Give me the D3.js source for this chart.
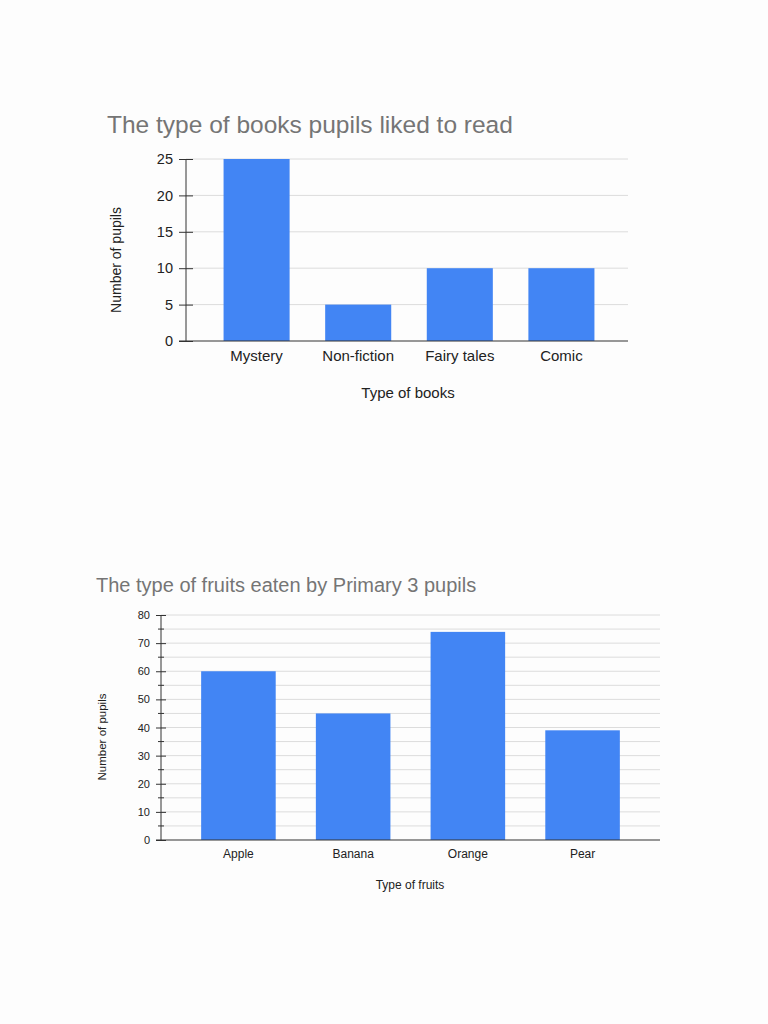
<!DOCTYPE html>
<html>
<head>
<meta charset="utf-8">
<script src="https://cdn.jsdelivr.net/npm/d3@7"></script>
<style>
  body { margin: 0; background: #fdfdfd; }
  text { font-family: "Liberation Sans", Arial, sans-serif; }
</style>
</head>
<body>
<div id="canvas"></div>
<script>
// chart data
var bookTypes = ["Mystery", "Non-fiction", "Fairy tales", "Comic"];
var bookPupils = [25, 5, 10, 10];
var bookTicks = [0, 5, 10, 15, 20, 25];

var fruitTypes = ["Apple", "Banana", "Orange", "Pear"];
var fruitPupils = [60, 45, 74, 39];
var fruitTicks = [0, 10, 20, 30, 40, 50, 60, 70, 80];
var fruitMinorTicks = d3.range(0, 81, 5);

var w = 768;
var h = 1024;

var svg = d3.select("#canvas")
    .append("svg")
    .attr("width", w)
    .attr("height", h);

function drawChart(opt) {
    var g = svg.append("g");

    var x = d3.scaleBand()
        .domain(opt.categories)
        .range([opt.left + opt.barShift, opt.right + opt.barShift])
        .paddingInner(0.35)
        .paddingOuter(0.35);

    var y = d3.scaleLinear()
        .domain([0, d3.max(opt.ticks)])
        .range([opt.bottom, opt.top]);

    // gridlines
    g.selectAll(".grid")
        .data(opt.gridTicks)
        .join("line")
        .attr("x1", opt.left)
        .attr("x2", opt.right)
        .attr("y1", d => y(d))
        .attr("y2", d => y(d))
        .attr("stroke", "#dcdcdc")
        .attr("stroke-width", 1);

    // bars
    g.selectAll(".bar")
        .data(opt.values)
        .join("rect")
        .attr("x", (d, i) => x(opt.categories[i]))
        .attr("y", d => y(d))
        .attr("width", x.bandwidth())
        .attr("height", d => y(0) - y(d))
        .attr("fill", "#4285f4");

    // y axis (ticks cross the axis line)
    var yAxis = g.append("g")
        .attr("transform", `translate(${opt.left},0)`)
        .call(d3.axisLeft(y).tickValues(opt.ticks).tickSize(opt.tickLen).tickPadding(opt.tickPad));
    yAxis.selectAll(".tick line")
        .attr("x2", opt.tickLen)
        .attr("x1", -opt.tickLen)
        .attr("stroke", "#333");
    yAxis.select(".domain").attr("stroke", "#333")
        .attr("d", `M0,${opt.bottom}V${opt.top}`);
    yAxis.selectAll(".tick text")
        .style("font-size", opt.tickFont + "px")
        .style("font-family", "Liberation Sans, Arial, sans-serif")
        .attr("fill", "#222");

    if (opt.minorTicks) {
        g.selectAll(".minor")
            .data(opt.minorTicks)
            .join("line")
            .attr("x1", opt.left - 3)
            .attr("x2", opt.left + 3)
            .attr("y1", d => y(d))
            .attr("y2", d => y(d))
            .attr("stroke", "#333");
    }

    // x axis baseline
    g.append("line")
        .attr("x1", opt.left - opt.tickLen)
        .attr("x2", opt.right)
        .attr("y1", y(0))
        .attr("y2", y(0))
        .attr("stroke", "#333")
        .attr("stroke-width", 1.2);

    // category labels
    g.selectAll(".cat")
        .data(opt.categories)
        .join("text")
        .attr("x", d => x(d) + x.bandwidth() / 2)
        .attr("y", y(0) + opt.catOffset)
        .attr("text-anchor", "middle")
        .style("font-size", opt.labelFont + "px")
        .attr("fill", "#222")
        .text(d => d);

    // title
    g.append("text")
        .attr("x", opt.titleX)
        .attr("y", opt.titleY)
        .style("font-size", opt.titleFont + "px")
        .attr("fill", "#757575")
        .text(opt.title);

    // x axis title
    g.append("text")
        .attr("x", opt.xTitleX)
        .attr("y", opt.xTitleY)
        .attr("text-anchor", "middle")
        .style("font-size", opt.labelFont + "px")
        .attr("fill", "#222")
        .text(opt.xTitle);

    // y axis title
    g.append("text")
        .attr("transform", `translate(${opt.yTitleX},${opt.yTitleY}) rotate(-90)`)
        .attr("text-anchor", "middle")
        .style("font-size", opt.yTitleFont + "px")
        .attr("fill", "#222")
        .text("Number of pupils");
}

drawChart({
    categories: bookTypes,
    values: bookPupils,
    ticks: bookTicks,
    gridTicks: bookTicks.slice(1),
    left: 186, right: 628, top: 159, bottom: 341, barShift: 2,
    tickLen: 7, tickPad: 6, tickFont: 14.5, labelFont: 15,
    catOffset: 20,
    title: "The type of books pupils liked to read",
    titleX: 107, titleY: 133, titleFont: 24.5,
    xTitle: "Type of books", xTitleX: 408, xTitleY: 398,
    yTitleX: 121, yTitleY: 260, yTitleFont: 14
});

drawChart({
    categories: fruitTypes,
    values: fruitPupils,
    ticks: fruitTicks,
    gridTicks: fruitMinorTicks.slice(1),
    minorTicks: fruitMinorTicks.filter(d => d % 10 !== 0),
    left: 161, right: 660, top: 615, bottom: 840, barShift: 0,
    tickLen: 5, tickPad: 6, tickFont: 11, labelFont: 12,
    catOffset: 18,
    title: "The type of fruits eaten by Primary 3 pupils",
    titleX: 96, titleY: 592, titleFont: 20,
    xTitle: "Type of fruits", xTitleX: 410, xTitleY: 889,
    yTitleX: 106, yTitleY: 737, yTitleFont: 11.5
});
</script>
</body>
</html>
